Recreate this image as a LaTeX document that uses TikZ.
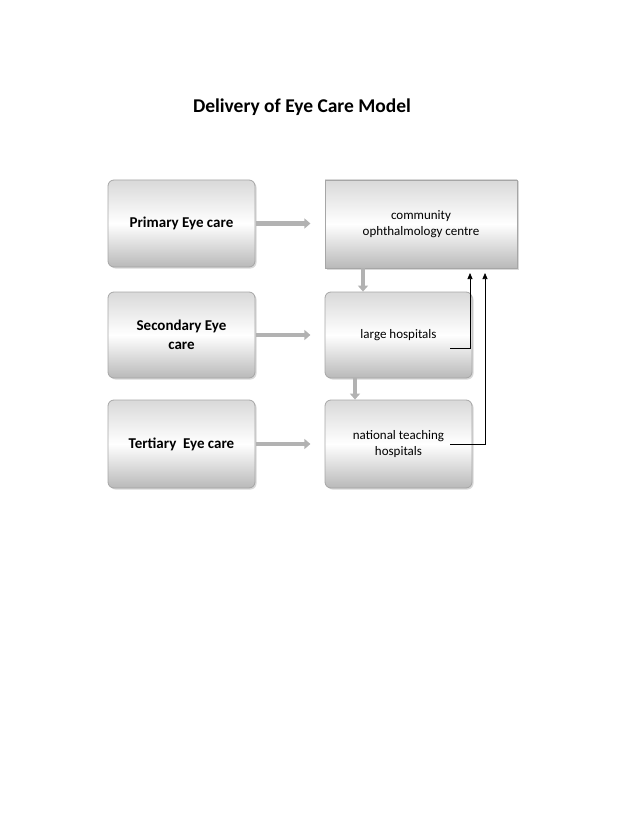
\documentclass[tikz,border=0pt]{standalone}
\usepackage{fontspec}
\setmainfont{Carlito}
\usetikzlibrary{arrows.meta,shadows}
\begin{document}
\begin{tikzpicture}[x=1pt,y=-1pt,
  box/.style={draw=gray!70,line width=0.8pt,rounded corners=6pt,top color=gray!30,bottom color=gray!55,middle color=white,
    minimum width=#1,align=center,inner sep=2pt,drop shadow={opacity=0.3,shadow xshift=1.5pt,shadow yshift=-1.5pt}},
  garrow/.style={draw=gray!60,line width=4.5pt,-{Triangle[length=6pt,width=10pt]}},
  barrow/.style={draw=black,line width=0.7pt,-{Triangle[length=6pt,width=5pt]}}]
\useasboundingbox (0,0) rectangle (638,826);
\node[font=\bfseries\fontsize{19.5}{22}\selectfont] (title) at (302,107) {Delivery of Eye Care Model};
\node[box=147pt,minimum height=87pt,font=\bfseries\fontsize{15}{19}\selectfont] (p) at (181.5,223.5) {Primary Eye care};
\node[box=147pt,minimum height=86pt,font=\bfseries\fontsize{15}{19}\selectfont] (s) at (181.5,335) {Secondary Eye\\care};
\node[box=147pt,minimum height=88pt,font=\bfseries\fontsize{15}{19}\selectfont] (t) at (181.5,444) {Tertiary\ \ Eye care};
\node[box=192pt,minimum height=88pt,rounded corners=0pt,font=\fontsize{13}{16}\selectfont] (c) at (421,224) {community\\ophthalmology centre};
\node[box=147pt,minimum height=86pt,font=\fontsize{13}{16}\selectfont] (l) at (398.5,335) {large hospitals};
\node[box=147pt,minimum height=88pt,font=\fontsize{13}{16}\selectfont] (n) at (398.5,444) {national teaching\\hospitals};
\draw[garrow] (p.east) ++(1,0) -- ++(54,0);
\draw[garrow] (s.east) ++(1,0) -- ++(54,0);
\draw[garrow] (t.east) ++(1,0) -- ++(54,0);
\draw[garrow] (c.south -| 363,0) -- (l.north -| 363,0);
\draw[garrow] (l.south -| 355,0) -- (n.north -| 355,0);
\coordinate (a1) at (470,273);
\coordinate (a2) at (485,273);
\draw[barrow] (450,348) -| (a1);
\draw[barrow] (450,444) -| (a2);
\end{tikzpicture}
\end{document}
